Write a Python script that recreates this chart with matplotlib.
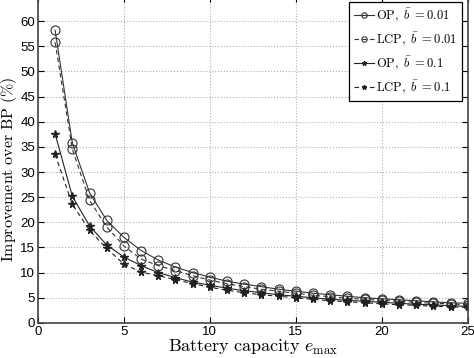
import numpy as np
import matplotlib
matplotlib.use('Agg')
import matplotlib.pyplot as plt

plt.rcParams['mathtext.fontset'] = 'cm'
plt.rcParams['font.family'] = ['Liberation Sans', 'DejaVu Sans']

# battery capacity e_max
e_max = list(range(1, 26))

# improvement over BP (%)
op_001 = [58.2, 35.8, 25.9, 20.4, 17.0, 14.4, 12.5, 11.1, 10.0, 9.1, 8.3, 7.7, 7.2,
          6.7, 6.3, 5.9, 5.6, 5.3, 5.0, 4.8, 4.6, 4.4, 4.2, 4.0, 3.9]
lcp_001 = [55.8, 34.6, 24.4, 19.1, 15.3, 12.7, 11.4, 10.4, 9.4, 8.5, 7.8, 7.2, 6.7,
           6.3, 5.9, 5.5, 5.2, 4.9, 4.7, 4.5, 4.3, 4.1, 3.9, 3.8, 3.6]
op_01 = [37.6, 25.2, 19.3, 15.5, 13.1, 11.4, 10.0, 9.0, 8.1, 7.5, 6.9, 6.4, 6.0,
         5.6, 5.3, 5.0, 4.7, 4.5, 4.3, 4.1, 3.9, 3.7, 3.6, 3.4, 3.3]
lcp_01 = [33.5, 23.6, 18.4, 14.8, 11.7, 10.1, 9.4, 8.6, 7.8, 7.1, 6.5, 6.0, 5.6,
          5.3, 5.0, 4.7, 4.4, 4.2, 4.0, 3.8, 3.6, 3.5, 3.3, 3.2, 3.1]

labels = [r'$\mathrm{OP},\ \bar{b}\ {=}0.01$', r'$\mathrm{LCP},\ \bar{b}\ {=}0.01$',
          r'$\mathrm{OP},\ \bar{b}\ {=}0.1$', r'$\mathrm{LCP},\ \bar{b}\ {=}0.1$']

fig = plt.figure(figsize=(4.74, 3.58), dpi=100)
ax = fig.add_axes([0.080, 0.098, 0.907, 0.913])

lw = 0.8
ax.plot(e_max, op_001, '-', color='#333333', lw=lw, marker='o', ms=6.5, mfc='none',
        mec='#333333', mew=0.8, label=labels[0])
ax.plot(e_max, lcp_001, '--', color='#333333', lw=lw, marker='o', ms=6.5, mfc='none',
        mec='#333333', mew=0.8, label=labels[1], dashes=(4, 3))
ax.plot(e_max, op_01, '-', color='#222222', lw=lw, marker='*', ms=5.5,
        mec='#222222', mfc='#222222', label=labels[2])
ax.plot(e_max, lcp_01, '--', color='#222222', lw=lw, marker='*', ms=5.5,
        mec='#222222', mfc='#222222', label=labels[3], dashes=(4, 3))

ax.set_xlim(0, 25)
ax.set_ylim(0, 65)
ax.set_xticks(range(0, 26, 5))
ax.set_yticks(range(0, 61, 5))
ax.tick_params(direction='in', labelsize=9.5, length=4, width=0.8, pad=2,
               top=True, right=True)
ax.grid(True, linestyle=':', color='#b0b0b0', linewidth=0.8)
for s in ax.spines.values():
    s.set_linewidth(1.2)
    s.set_color('#444444')

ax.set_xlabel(r'$\mathrm{Battery\ capacity}\ e_{\max}$', fontsize=13, labelpad=0)
ax.set_ylabel(r'$\mathrm{Improvement\ over\ BP\ (\%)}$', fontsize=11.5)
ax.yaxis.set_label_coords(-0.044, 0.47)

leg = ax.legend(loc='upper right', fontsize=9, frameon=True, fancybox=False,
                edgecolor='black', framealpha=1, handlelength=1.6,
                handletextpad=0.2, borderpad=0.35, labelspacing=0.55,
                borderaxespad=0.5, markerscale=0.6)
leg.get_frame().set_linewidth(0.9)

fig.savefig('out.png', dpi=100)
